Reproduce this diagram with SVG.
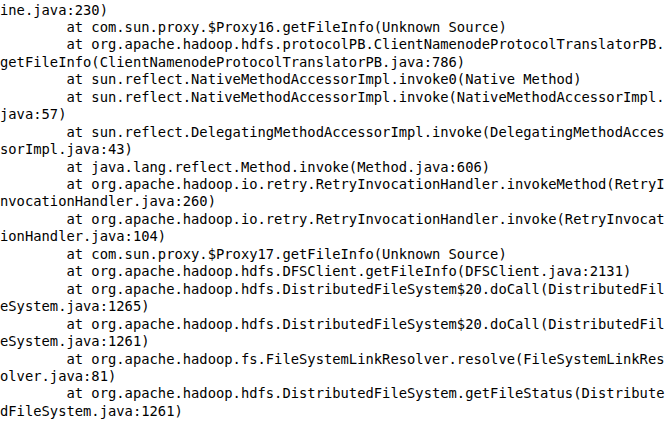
<svg xmlns="http://www.w3.org/2000/svg" width="668" height="424" viewBox="0 0 668 424">
<style>text{font-family:"DejaVu Sans Mono",monospace;font-size:13.8px;fill:#000;white-space:pre}</style>
<rect width="668" height="424" fill="#fff"/>
<text x="0" y="14.5" xml:space="preserve">ine.java:230)</text>
<text x="0" y="31.95" xml:space="preserve">        at com.sun.proxy.$Proxy16.getFileInfo(Unknown Source)</text>
<text x="0" y="49.4" xml:space="preserve">        at org.apache.hadoop.hdfs.protocolPB.ClientNamenodeProtocolTranslatorPB.</text>
<text x="0" y="66.85" xml:space="preserve">getFileInfo(ClientNamenodeProtocolTranslatorPB.java:786)</text>
<text x="0" y="84.3" xml:space="preserve">        at sun.reflect.NativeMethodAccessorImpl.invoke0(Native Method)</text>
<text x="0" y="101.75" xml:space="preserve">        at sun.reflect.NativeMethodAccessorImpl.invoke(NativeMethodAccessorImpl.</text>
<text x="0" y="119.2" xml:space="preserve">java:57)</text>
<text x="0" y="136.65" xml:space="preserve">        at sun.reflect.DelegatingMethodAccessorImpl.invoke(DelegatingMethodAcces</text>
<text x="0" y="154.1" xml:space="preserve">sorImpl.java:43)</text>
<text x="0" y="171.55" xml:space="preserve">        at java.lang.reflect.Method.invoke(Method.java:606)</text>
<text x="0" y="189" xml:space="preserve">        at org.apache.hadoop.io.retry.RetryInvocationHandler.invokeMethod(RetryI</text>
<text x="0" y="206.45" xml:space="preserve">nvocationHandler.java:260)</text>
<text x="0" y="223.9" xml:space="preserve">        at org.apache.hadoop.io.retry.RetryInvocationHandler.invoke(RetryInvocat</text>
<text x="0" y="241.35" xml:space="preserve">ionHandler.java:104)</text>
<text x="0" y="258.8" xml:space="preserve">        at com.sun.proxy.$Proxy17.getFileInfo(Unknown Source)</text>
<text x="0" y="276.25" xml:space="preserve">        at org.apache.hadoop.hdfs.DFSClient.getFileInfo(DFSClient.java:2131)</text>
<text x="0" y="293.7" xml:space="preserve">        at org.apache.hadoop.hdfs.DistributedFileSystem$20.doCall(DistributedFil</text>
<text x="0" y="311.15" xml:space="preserve">eSystem.java:1265)</text>
<text x="0" y="328.6" xml:space="preserve">        at org.apache.hadoop.hdfs.DistributedFileSystem$20.doCall(DistributedFil</text>
<text x="0" y="346.05" xml:space="preserve">eSystem.java:1261)</text>
<text x="0" y="363.5" xml:space="preserve">        at org.apache.hadoop.fs.FileSystemLinkResolver.resolve(FileSystemLinkRes</text>
<text x="0" y="380.95" xml:space="preserve">olver.java:81)</text>
<text x="0" y="398.4" xml:space="preserve">        at org.apache.hadoop.hdfs.DistributedFileSystem.getFileStatus(Distribute</text>
<text x="0" y="415.85" xml:space="preserve">dFileSystem.java:1261)</text>
</svg>
